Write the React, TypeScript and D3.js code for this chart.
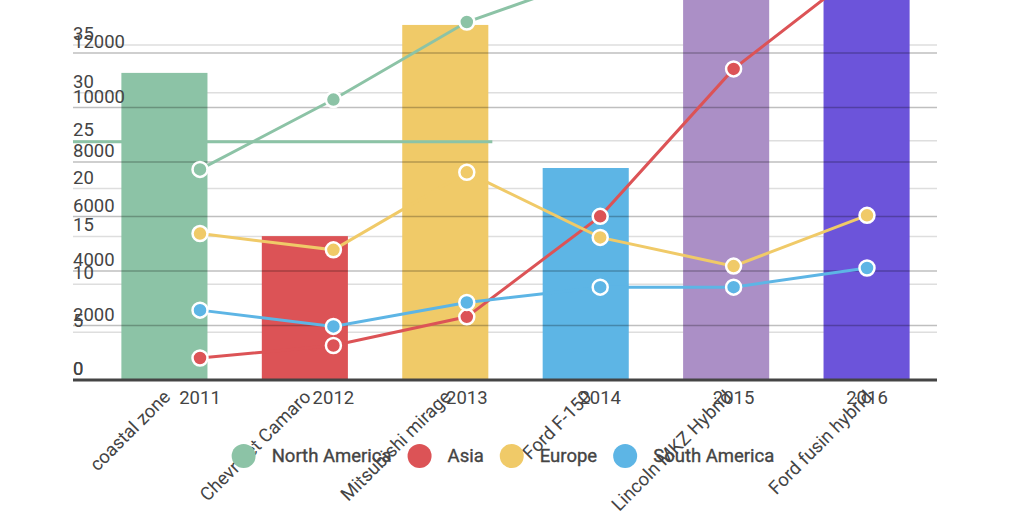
import * as d3 from 'd3';
import React, { useRef, useEffect } from 'react';

// bar chart (sales by model)
const models = ['coastal zone', 'Chevrolet Camaro', 'Mitsubishi mirage', 'Ford F-150', 'Lincoln MKZ Hybrid', 'Ford fusin hybrid'];
const modelSales = [11270, 5280, 13030, 7780, 15000, 16000];
const barColors = ['#8cc3a6', '#dc5356', '#f0ca68', '#5db5e5', '#ab8fc6', '#6c54da'];
const barTicks = [0, 2000, 4000, 6000, 8000, 10000, 12000];

// line chart (regions by year)
const years = ['2011', '2012', '2013', '2014', '2015', '2016'];
const regions = ['North America', 'Asia', 'Europe', 'South America'];
const northAmerica = [22.0, 29.3, 37.4, 42.3, 45.0, 47.5];
const asia = [2.3, 3.6, 6.6, 17.1, 32.5, 43.3];
const europe = [15.3, 13.6, 21.7, 14.9, 11.9, 17.2];
const southAmerica = [7.3, 5.6, 8.1, 9.7, 9.7, 11.7];
const regionColors = ['#8cc3a6', '#dc5356', '#f0ca68', '#5db5e5'];
const lineTicks = [0, 5, 10, 15, 20, 25, 30, 35];
const targetValue = 24.9;

const W = 1024;
const H = 512;
const textColor = '#444';
const font = 'Roboto, sans-serif';
const fontSize = 18.5;

const App: React.FC = () => {
  const svgRef = useRef<SVGSVGElement | null>(null);

  useEffect(() => {
    const svg = d3.select(svgRef.current);
    svg.selectAll('*').remove();

    const left = 73;
    const right = 937;
    const bottom = 380;

    const xBar = d3.scaleBand<string>().domain(models).range([94, right]).paddingInner(0.387).paddingOuter(0.195);
    const yBar = d3.scaleLinear().domain([0, 12000]).range([bottom, 53]);
    const xLine = d3.scalePoint<string>().domain(years).range([200, 867]);
    const yLine = d3.scaleLinear().domain([0, 35]).range([bottom, 45]);

    const series = [northAmerica, asia, europe, southAmerica];

    // light grid for the line chart
    svg.append('g')
      .selectAll('line')
      .data(lineTicks.slice(1))
      .join('line')
      .attr('x1', left).attr('x2', right)
      .attr('y1', d => yLine(d)).attr('y2', d => yLine(d))
      .attr('stroke', '#dedede').attr('stroke-width', 1.5);

    // bars
    svg.append('g')
      .selectAll('rect')
      .data(modelSales)
      .join('rect')
      .attr('x', (_, i) => xBar(models[i])!)
      .attr('width', xBar.bandwidth())
      .attr('y', d => yBar(d))
      .attr('height', d => bottom - yBar(d))
      .attr('fill', (_, i) => barColors[i]);

    // darker grid for bar chart, sits over the bars
    svg.append('g')
      .selectAll('line')
      .data(barTicks.slice(1))
      .join('line')
      .attr('x1', left).attr('x2', right)
      .attr('y1', d => yBar(d)).attr('y2', d => yBar(d))
      .attr('stroke', '#000').attr('stroke-opacity', 0.25).attr('stroke-width', 1.5);

    // target line
    svg.append('line')
      .attr('x1', left)
      .attr('x2', xBar('Mitsubishi mirage')! + xBar.bandwidth() + 4)
      .attr('y1', yLine(targetValue)).attr('y2', yLine(targetValue))
      .attr('stroke', regionColors[0]).attr('stroke-width', 3);

    // y labels, both scales
    svg.append('g')
      .selectAll('text')
      .data(lineTicks)
      .join('text')
      .attr('x', left).attr('y', d => yLine(d) - 5)
      .attr('fill', textColor).attr('font-size', fontSize).attr('font-family', font)
      .text(d => d);
    svg.append('g')
      .selectAll('text')
      .data(barTicks)
      .join('text')
      .attr('x', left).attr('y', d => yBar(d) - 5)
      .attr('fill', textColor).attr('font-size', fontSize).attr('font-family', font)
      .text(d => d);

    // x axis line
    svg.append('line')
      .attr('x1', left).attr('x2', right)
      .attr('y1', bottom).attr('y2', bottom)
      .attr('stroke', textColor).attr('stroke-width', 3);

    // lines and points
    const line = d3.line<number>()
      .x((_, i) => xLine(years[i])!)
      .y(d => yLine(d));

    series.forEach((vals, s) => {
      svg.append('path')
        .datum(vals)
        .attr('fill', 'none')
        .attr('stroke', regionColors[s])
        .attr('stroke-width', 3)
        .attr('d', line);
    });
    series.forEach((vals, s) => {
      svg.append('g')
        .selectAll('circle')
        .data(vals)
        .join('circle')
        .attr('cx', (_, i) => xLine(years[i])!)
        .attr('cy', d => yLine(d))
        .attr('r', 7.5)
        .attr('fill', regionColors[s])
        .attr('stroke', '#fff')
        .attr('stroke-width', 2.5);
    });

    // year labels
    svg.append('g')
      .selectAll('text')
      .data(years)
      .join('text')
      .attr('x', d => xLine(d)!).attr('y', 404)
      .attr('text-anchor', 'middle')
      .attr('fill', textColor).attr('font-size', fontSize).attr('font-family', font)
      .text(d => d);

    // rotated model labels
    svg.append('g')
      .selectAll('text')
      .data(models)
      .join('text')
      .attr('transform', d => `translate(${xBar(d)! + xBar.bandwidth() / 2 + 7},398) rotate(-45)`)
      .attr('text-anchor', 'end')
      .attr('fill', textColor).attr('font-size', fontSize).attr('font-family', font)
      .text(d => d);

    // legend, centred under the plot
    const legend = svg.append('g');
    const items = regions.map((name, i) => {
      const g = legend.append('g');
      g.append('circle').attr('r', 12).attr('cy', 456).attr('fill', regionColors[i]);
      const t = g.append('text')
        .attr('x', 28).attr('y', 462)
        .attr('fill', textColor).attr('font-size', fontSize).attr('font-family', font)
        .attr('stroke', textColor).attr('stroke-width', 0.35)
        .text(name);
      const w = (t.node() as SVGTextElement).getComputedTextLength();
      return { g, w };
    });
    const total = d3.sum(items, d => 12 + 16 + d.w) + 28 * (items.length - 1);
    let x = (left + right) / 2 - 8 - total / 2 + 12;
    items.forEach(it => {
      it.g.attr('transform', `translate(${x},0)`);
      x += 28 + it.w + 28;
    });
  }, []);

  return (
    <svg
      ref={svgRef}
      width={W}
      height={H}
      style={{ position: 'absolute', left: 0, top: 0, background: '#fff' }}
    />
  );
};

export default App;
